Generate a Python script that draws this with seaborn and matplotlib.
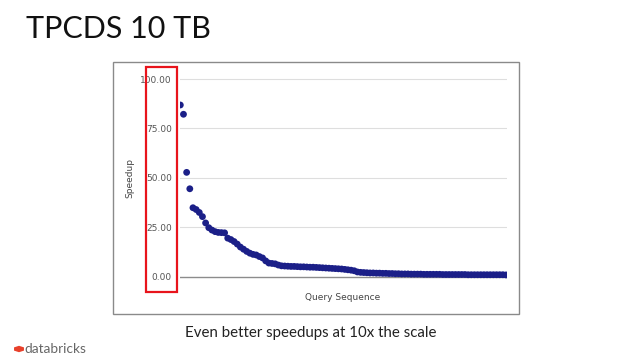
import matplotlib
matplotlib.use("Agg")
import matplotlib.pyplot as plt
from matplotlib.patches import Rectangle, RegularPolygon
import seaborn as sns
import pandas as pd
import numpy as np

# ---- data ----
speedup = [
    86.9, 82.2, 52.8, 44.5, 34.9, 34.0, 32.5, 30.4, 27.2, 24.8,
    23.6, 22.8, 22.4, 22.3, 22.2, 19.5, 18.8, 17.8, 16.5, 15.0,
    13.9, 12.8, 11.9, 11.3, 11.0, 10.2, 9.5, 8.0, 6.9, 6.7,
    6.5, 5.9, 5.5, 5.4, 5.3, 5.2, 5.2, 5.1, 5.0, 5.0,
    4.9, 4.8, 4.8, 4.7, 4.6, 4.5, 4.4, 4.3, 4.2, 4.1,
    4.0, 3.9, 3.7, 3.5, 3.3, 3.0, 2.4, 2.2, 2.1, 2.0,
    1.9, 1.9, 1.8, 1.8, 1.7, 1.7, 1.6, 1.6, 1.5, 1.5,
    1.4, 1.4, 1.4, 1.3, 1.3, 1.3, 1.3, 1.2, 1.2, 1.2,
    1.2, 1.2, 1.2, 1.1, 1.1, 1.1, 1.1, 1.1, 1.1, 1.1,
    1.1, 1.0, 1.0, 1.0, 1.0, 1.0, 1.0, 1.0, 1.0, 1.0,
    1.0, 1.0, 1.0, 0.9,
]
query_seq = list(range(len(speedup)))
y_ticks = [0, 25, 50, 75, 100]
y_tick_labels = ["0.00", "25.00", "50.00", "75.00", "100.00"]
title = "TPCDS 10 TB"
subtitle = "Even better speedups at 10x the scale"

df = pd.DataFrame({"Query Sequence": query_seq, "Speedup": speedup})

W, H = 638, 359
fig = plt.figure(figsize=(W / 100, H / 100), dpi=100)
fig.patch.set_facecolor("white")

def fx(px):
    return px / W

def fy(py):
    return 1 - py / H

# chart box
fig.patches.append(Rectangle((fx(113), fy(314)), fx(519) - fx(113), fy(62) - fy(314),
                             transform=fig.transFigure, fill=False,
                             edgecolor="#8a8a8a", linewidth=1.0))

y_lo, y_hi = -7, 102
px_per_unit = 1.976
bottom_px = 276.7 - y_lo * px_per_unit
top_px = 276.7 - y_hi * px_per_unit
ax = fig.add_axes([fx(180), fy(bottom_px), fx(507) - fx(180), fy(top_px) - fy(bottom_px)])
ax.set_facecolor("none")

sns.scatterplot(data=df, x="Query Sequence", y="Speedup", ax=ax,
                color="#1b1f88", s=24, edgecolor="none", zorder=3)

ax.set_ylim(y_lo, y_hi)
ax.set_xlim(-0.1, 103.3)
for t in y_ticks:
    ax.axhline(t, color="#8c8c8c" if t == 0 else "#dedede",
               linewidth=1.0 if t == 0 else 0.8, zorder=1)
ax.set_yticks(y_ticks)
ax.set_yticklabels(y_tick_labels, fontsize=6.5, color="#555555", family="DejaVu Sans")
ax.tick_params(axis="y", length=0, pad=6)
ax.set_xticks([])
for s in ax.spines.values():
    s.set_visible(False)
ax.set_xlabel("")
ax.set_ylabel("")

fig.text(fx(130), fy(178), "Speedup", rotation=90, ha="center", va="center",
         fontsize=6.5, color="#444444", family="DejaVu Sans")
fig.text(fx(343), fy(297), "Query Sequence", ha="center", va="center",
         fontsize=6.5, color="#444444", family="DejaVu Sans")

# red highlight rectangle
fig.patches.append(Rectangle((fx(146), fy(292)), fx(177) - fx(146), fy(67) - fy(292),
                             transform=fig.transFigure, fill=False,
                             edgecolor="#e8141c", linewidth=1.6, zorder=5))

# slide title / caption
fig.text(fx(26), fy(38), title, ha="left", va="baseline", fontsize=22,
         color="#111111", family="Lato")
fig.text(fx(311), fy(333), subtitle, ha="center", va="center", fontsize=10.8,
         color="#222222", family="Lato")

# logo
fig.patches.append(RegularPolygon((fx(19), fy(349)), numVertices=6, radius=0.009,
                                  orientation=0, transform=fig.transFigure,
                                  facecolor="#e8412c", edgecolor="none"))
fig.text(fx(24), fy(349), "databricks", ha="left", va="center", fontsize=9.8,
         color="#666666", family="Lato")

fig.savefig("out.png", dpi=100)
